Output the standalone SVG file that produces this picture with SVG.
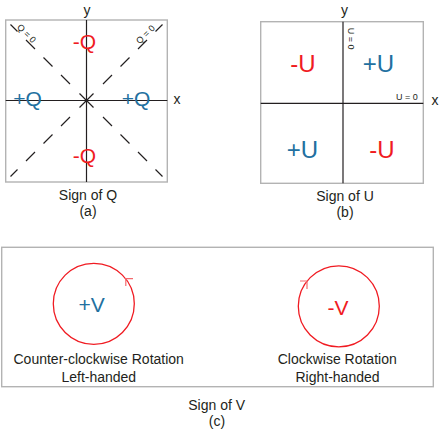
<svg xmlns="http://www.w3.org/2000/svg" width="439" height="433" viewBox="0 0 439 433">
<style>
  text { font-family: "Liberation Sans", Arial, sans-serif; fill: #231f20; }
  .cap { font-size: 14px; text-anchor: middle; }
  .small { font-size: 9px; text-anchor: middle; }
  .big { font-size: 21px; text-anchor: middle; }
  .bigu { font-size: 24px; text-anchor: middle; }
  .red { fill: #f01b22; }
  .blue { fill: #2270a0; }
  .frame { fill: none; stroke: #b3b3b3; stroke-width: 1.4; }
  .axis { stroke: #231f20; stroke-width: 1.2; fill: none; }
  .diag { stroke: #231f20; stroke-width: 1.2; fill: none; }
  .ring { fill: none; stroke: #f01b22; stroke-width: 1.3; }
  .tick { fill: none; stroke: #f46a6e; stroke-width: 1.2; }
</style>

<g id="panel-a">
  <rect class="frame" x="5.7" y="20" width="161.6" height="162"/>
  <g id="axes-a">
    <line class="axis" x1="5.7" y1="100.5" x2="167.3" y2="100.5"/>
    <line class="axis" x1="86.5" y1="20" x2="86.5" y2="182"/>
    <path class="diag" d="M70,84 L61,75 M52.5,66.5 L43.5,57.5 M35,49 L26,40 M17.5,31.5 L10.5,24.5
      M103,84 L112,75 M120.5,66.5 L129.5,57.5 M138,49 L147,40 M155.5,31.5 L162.5,24.5
      M70,117 L61,126 M52.5,134.5 L43.5,143.5 M35,152 L26,161 M17.5,169.5 L10.5,176.5
      M103,117 L112,126 M120.5,134.5 L129.5,143.5 M138,152 L147,161 M155.5,169.5 L162.5,176.5
      M79.5,93.5 L93.5,107.5 M93.5,93.5 L79.5,107.5"/>
    <circle cx="86.5" cy="100.5" r="1.8" fill="#231f20"/>
  </g>
  <text class="small" transform="translate(23,37) rotate(45)" x="0" y="-2">Q = 0</text>
  <text class="small" transform="translate(149,38) rotate(-45)" x="0" y="-2">Q = 0</text>
  <text class="cap" x="87" y="15">y</text>
  <text class="cap" x="177" y="104">x</text>
  <text class="big red" x="84.5" y="48.5">-Q</text>
  <text class="big red" x="84.5" y="163">-Q</text>
  <text class="big blue" x="27.5" y="106">+Q</text>
  <text class="big blue" x="136" y="105.5">+Q</text>
  <text class="cap" x="88" y="199.5">Sign of Q</text>
  <text class="cap" x="88" y="215.5">(a)</text>
</g>

<g id="panel-b">
  <rect class="frame" x="260.7" y="21.7" width="162.6" height="161.6"/>
  <g id="axes-b">
    <line class="axis" x1="260.7" y1="103.3" x2="423.3" y2="103.3"/>
    <line class="axis" x1="343" y1="21.7" x2="343" y2="183.3"/>
  </g>
  <text class="small" transform="translate(347.5,38.5) rotate(90)" x="0" y="0">U = 0</text>
  <text class="small" x="407" y="100">U = 0</text>
  <text class="cap" x="344.5" y="15">y</text>
  <text class="cap" x="435" y="105">x</text>
  <text class="bigu red" x="303" y="72">-U</text>
  <text class="bigu blue" x="378.5" y="72">+U</text>
  <text class="bigu blue" x="302.5" y="158">+U</text>
  <text class="bigu red" x="382" y="158">-U</text>
  <text class="cap" x="345" y="200.5">Sign of U</text>
  <text class="cap" x="345" y="216.5">(b)</text>
</g>

<g id="panel-c">
  <rect class="frame" x="1.7" y="247.3" width="431.6" height="139.4"/>
  <g id="ccw">
    <circle class="ring" cx="93.8" cy="303.8" r="40.5"/>
    <path class="tick" d="M133,278.6 L125.8,278.6 L125.8,286"/>
    <text class="big blue" x="91.7" y="311.5">+V</text>
    <text class="cap" x="98.7" y="364">Counter-clockwise Rotation</text>
    <text class="cap" x="98.8" y="381.5">Left-handed</text>
  </g>
  <g id="cw">
    <circle class="ring" cx="338.8" cy="306.3" r="40.5"/>
    <path class="tick" d="M300,281 L307,281 L307,289"/>
    <text class="big red" x="338" y="315">-V</text>
    <text class="cap" x="337.2" y="364">Clockwise Rotation</text>
    <text class="cap" x="337.5" y="381.5">Right-handed</text>
  </g>
  <text class="cap" x="216.7" y="409.5">Sign of V</text>
  <text class="cap" x="217" y="425.5">(c)</text>
</g>
</svg>
